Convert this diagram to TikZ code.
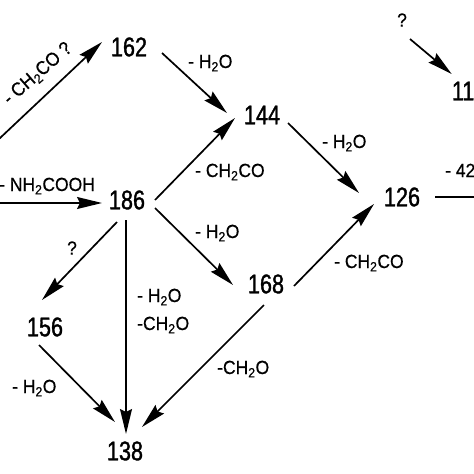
\documentclass[tikz,border=0pt]{standalone}
\usepackage{fontspec}
\setmainfont{Liberation Sans}[FakeStretch=0.92,FakeBold=0.6]
\newfontfamily\numfont{Liberation Sans}[FakeStretch=0.8,FakeBold=1.2]
\usetikzlibrary{arrows.meta}
\begin{document}
\begin{tikzpicture}[x=1pt,y=-1pt,
  num/.style={inner sep=0pt,font=\numfont\fontsize{27}{29}\selectfont},
  lbl/.style={inner sep=0pt,font=\fontsize{19}{21}\selectfont},
  arr/.style={line width=1.7pt,-{Stealth[length=25pt,width=12pt,inset=3pt]}},
  ln/.style={line width=1.7pt}]
\useasboundingbox (0,0) rectangle (474,474);
% nodes
\node[num] (n162) at (129,47) {162};
\node[num] (n144) at (262,115) {144};
\node[num] (n186) at (127,200) {186};
\node[num] (n126) at (402,197) {126};
\node[num] (n168) at (266,284) {168};
\node[num] (n156) at (45,327) {156};
\node[num] (n138) at (125,451) {138};
\node[num,anchor=east] (n11) at (474.5,91) {11};
\node[lbl] (q) at (402,20) {?};
\coordinate (inA) at (-1,139);
\coordinate (inB) at (-2,203);
\coordinate (outR) at (478,197);
% connectors
\draw[arr] (inA) -- ([shift={(-27,-5)}]n162.center);
\draw[arr] (inB) -- ([shift={(-25,3)}]n186.center);
\draw[arr] ([shift={(33,6)}]n162.center) -- ([shift={(-35,-2)}]n144.center);
\draw[arr] ([shift={(28,0)}]n186.center) -- ([shift={(-27,3)}]n144.center);
\draw[arr] ([shift={(28,8)}]n186.center) -- ([shift={(-33,1)}]n168.center);
\draw[arr] ([shift={(26,8)}]n144.center) -- ([shift={(-43,-4)}]n126.center);
\draw[arr] ([shift={(28,2)}]n168.center) -- ([shift={(-28,7)}]n126.center);
\draw[ln] ([shift={(33,0)}]n126.center) -- (outR);
\draw[arr] ([shift={(8,19)}]q.center) -- ([shift={(0,-17)}]n11.west);
\draw[arr] ([shift={(-10,22)}]n186.center) -- ([shift={(-3,-27)}]n156.center);
\draw[arr] ([shift={(-1,20)}]n186.center) -- ([shift={(1,-17)}]n138.center);
\draw[arr] ([shift={(-6,18)}]n156.center) -- ([shift={(-10,-29)}]n138.center);
\draw[arr] ([shift={(-2,21)}]n168.center) -- ([shift={(17,-24)}]n138.center);
% labels
\node[lbl,rotate=41] (la) at (38,74) {- CH\textsubscript{2}CO ?};
\node[lbl,anchor=base west] (lb) at (-1,191) {- NH\textsubscript{2}COOH};
\node[lbl,anchor=base west] (lc) at (188,68) {- H\textsubscript{2}O};
\node[lbl,anchor=base west] (ld) at (195,177) {- CH\textsubscript{2}CO};
\node[lbl,anchor=base west] (le) at (195,238) {- H\textsubscript{2}O};
\node[lbl,anchor=base west] (lf) at (322,148) {- H\textsubscript{2}O};
\node[lbl,anchor=base west] (lg) at (334,268) {- CH\textsubscript{2}CO};
\node[lbl,anchor=base west] (lh) at (445,177) {- 42};
\node[lbl] (li) at (72,248) {?};
\node[lbl,anchor=base west] (lj) at (137,302) {- H\textsubscript{2}O};
\node[lbl,anchor=base west] (lk) at (137,330) {-CH\textsubscript{2}O};
\node[lbl,anchor=base west] (ll) at (12,393) {- H\textsubscript{2}O};
\node[lbl,anchor=base west] (lm) at (217,374) {-CH\textsubscript{2}O};
\end{tikzpicture}
\end{document}
